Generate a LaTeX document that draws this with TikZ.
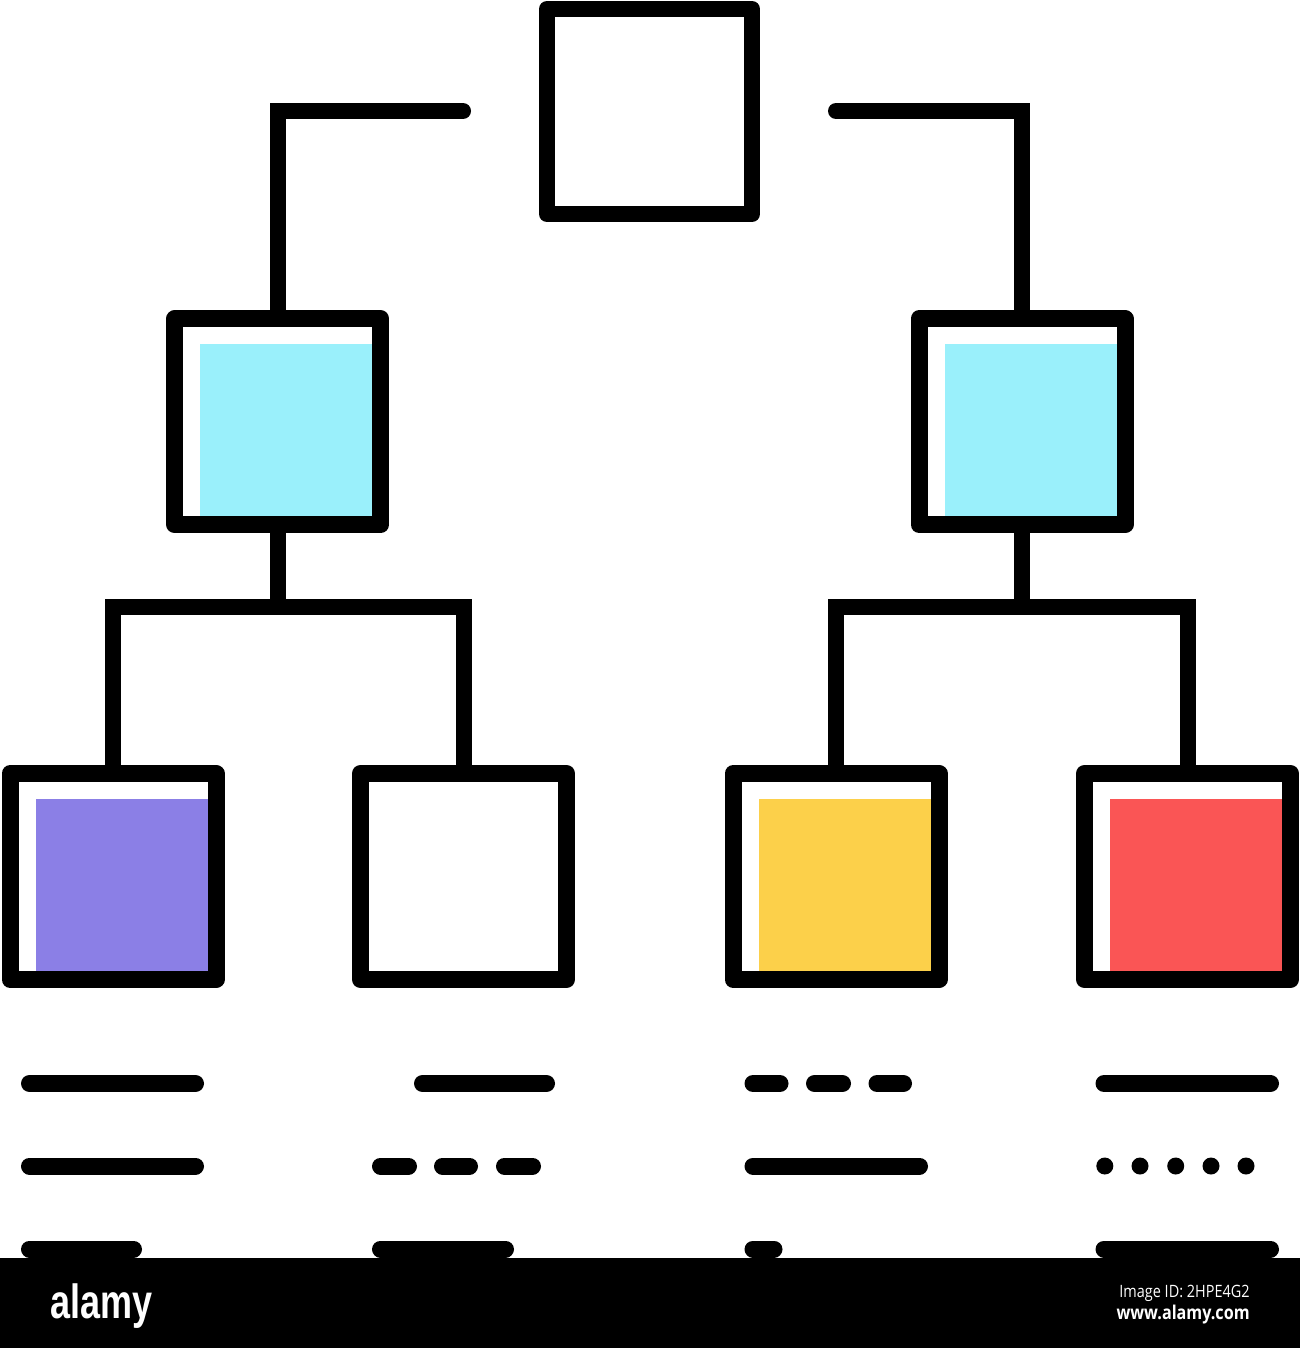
\documentclass[tikz,border=0pt]{standalone}
\usepackage{fontspec}
\setmainfont{Open Sans}
\newfontfamily\barfont{Liberation Sans}
\definecolor{cyanfill}{HTML}{9AF0FB}
\definecolor{purplefill}{HTML}{8B7FE6}
\definecolor{yellowfill}{HTML}{FCD04A}
\definecolor{redfill}{HTML}{FA5555}
\tikzset{
  bigbox/.style={draw=black, line width=8.5pt, line join=round, inner sep=0pt, outer sep=0pt,
    minimum width=103pt, minimum height=103pt},
  topbox/.style={bigbox, line width=8pt, minimum width=102.5pt, minimum height=102.5pt},
  conn/.style={draw=black, line width=8pt, line cap=round, line join=miter},
  txtline/.style={draw=black, line width=8.5pt, line cap=round},
}
\newcommand{\boxfill}[2]{\fill[#2] ([shift={(25.5,25.5)}]#1.north west) rectangle ([shift={(-8.5,-8.5)}]#1.south east);}
\begin{document}
\begin{tikzpicture}[x=0.5pt,y=-0.5pt]
\useasboundingbox (0,0) rectangle (1300,1348);
\fill[white] (0,0) rectangle (1300,1348);
% fills first
\node[bigbox, draw=none] (ml) at (277.75,421.75) {};
\node[bigbox, draw=none] (mr) at (1022,421.75) {};
\node[bigbox, draw=none] (b1) at (113,876.5) {};
\node[bigbox, draw=none] (b2) at (463.5,876.5) {};
\node[bigbox, draw=none] (b3) at (836,876.5) {};
\node[bigbox, draw=none] (b4) at (1187.5,876.5) {};
\boxfill{ml}{cyanfill}
\boxfill{mr}{cyanfill}
\boxfill{b1}{purplefill}
\boxfill{b3}{yellowfill}
\boxfill{b4}{redfill}
% box outlines
\node[topbox] (top) at (649.5,111.5) {};
\foreach \n in {ml,mr,b1,b2,b3,b4} \draw[black, line width=8.5pt, line join=round] (\n.north west) rectangle (\n.south east);
% connectors
\coordinate (tl) at (463,111);
\coordinate (tr) at (836,111);
\coordinate (jl) at (277.75,607);
\coordinate (jr) at (1022,607);
\draw[conn] (tl) -- (tl -| ml.north) -- (ml.north);
\draw[conn] (tr) -- (tr -| mr.north) -- (mr.north);
\draw[conn, line cap=butt] (ml.south) -- (jl);
\draw[conn, line cap=butt] (mr.south) -- (jr);
\draw[conn, line cap=butt] (b1.north) -- (b1.north |- jl) -- (b2.north |- jl) -- (b2.north);
\draw[conn, line cap=butt] (b3.north) -- (b3.north |- jr) -- (b4.north |- jr) -- (b4.north);
% text lines row 1
\draw[txtline] (29.5,1083.5) -- (195.5,1083.5);
\draw[txtline] (422.5,1083.5) -- (546.5,1083.5);
\draw[txtline] (753,1083.5) -- (780,1083.5);
\draw[txtline] (814.5,1083.5) -- (842.5,1083.5);
\draw[txtline] (877,1083.5) -- (903.5,1083.5);
\draw[txtline] (1104,1083.5) -- (1270.5,1083.5);
% row 2
\draw[txtline] (29.5,1166) -- (195.5,1166);
\draw[txtline] (380.5,1166) -- (408.5,1166);
\draw[txtline] (442.5,1166) -- (469.5,1166);
\draw[txtline] (504.5,1166) -- (532.5,1166);
\draw[txtline] (753,1166) -- (919.5,1166);
\foreach \x in {1104.8,1140,1175.7,1211,1246} \fill[black] (\x,1166) circle[radius=4.25pt];
% row 3
\draw[txtline] (29.5,1249) -- (133.5,1249);
\draw[txtline] (380.5,1249) -- (505.5,1249);
\draw[txtline] (753,1249) -- (774,1249);
\draw[txtline] (1104,1249) -- (1270.5,1249);
% bottom bar
\fill[black] (0,1258) rectangle (1300,1348);
\node[anchor=base west, inner sep=0pt, text=white, font=\barfont\bfseries\fontsize{24}{24}\selectfont] (logo) at (50,1318) {\scalebox{0.75}[1]{alamy}};
\node[anchor=base east, inner sep=0pt, text=white, font=\fontsize{8.5}{9}\selectfont] (imgid) at (1250,1297) {\scalebox{0.85}[1]{Image ID: 2HPE4G2}};
\node[anchor=base east, inner sep=0pt, text=white, font=\bfseries\fontsize{9.5}{11}\selectfont] (www) at (1250,1319) {\scalebox{0.85}[1]{www.alamy.com}};
\end{tikzpicture}
\end{document}
